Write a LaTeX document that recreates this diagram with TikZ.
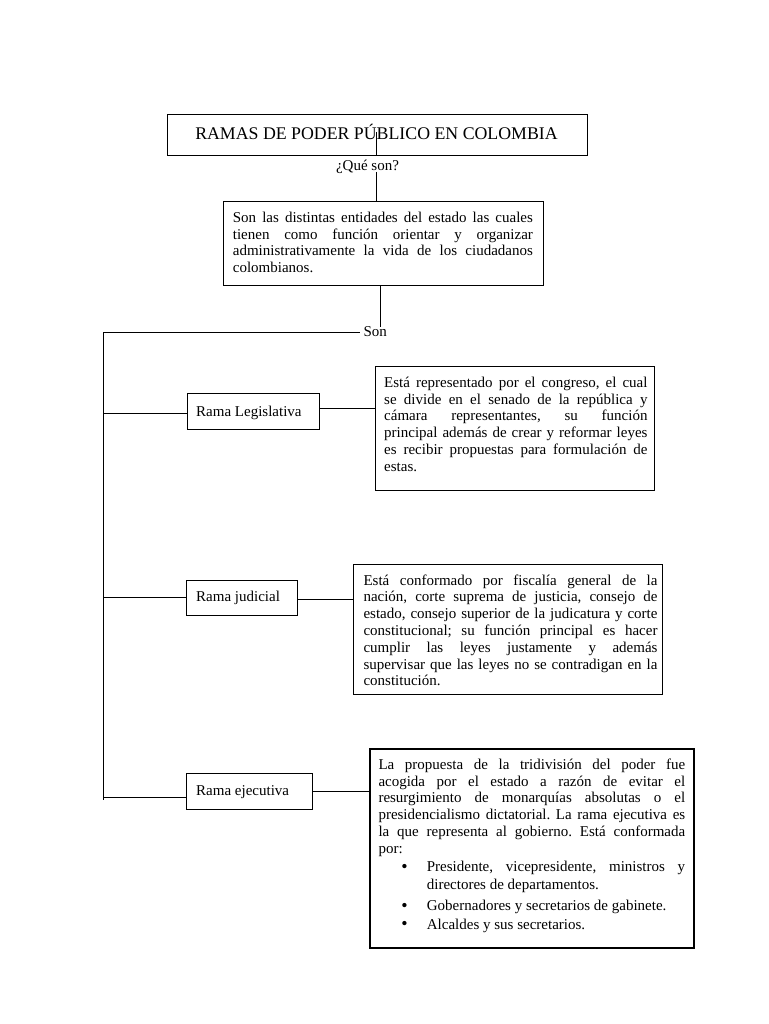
\documentclass[tikz,border=0pt]{standalone}
\usepackage{fontspec}
\setmainfont{Liberation Serif}
\newcommand\bodyfont{\fontsize{15}{16.8}\selectfont\frenchspacing}
\newcommand\titlefont{\fontsize{17.8}{20}\selectfont}
\newcommand\jl[1]{\hbox to\hsize{#1}}
\newcommand\lastline[1]{\hbox to\hsize{#1\hfil}}
\newcommand\bul{\raisebox{-0.5pt}{\fontsize{18}{18}\selectfont\textbullet}}
\newcommand\itemline[1]{\hbox to\hsize{\hbox to 48.4pt{\kern22.8pt\bul\hss}#1}}
\newcommand\itemlast[1]{\hbox to\hsize{\hbox to 48.4pt{\kern22.8pt\bul\hss}#1\hfil}}
\newcommand\contline[1]{\hbox to\hsize{\kern48.4pt #1\hfil}}
\begin{document}
\begin{tikzpicture}[x=1pt,y=-1pt,
  ln/.style={line width=0.9pt,black},
  boxst/.style={draw=black,line width=1pt,inner sep=0pt,anchor=north west},
  txt/.style={inner sep=0pt,font=\bodyfont,text=black}]
\useasboundingbox[fill=white] (0,0) rectangle (768,1024);

% ---- boxes ----
\node[boxst,minimum width=420pt,minimum height=41pt] (title) at (167,114) {};
\node[boxst,minimum width=319.4pt,minimum height=84pt] (def) at (223.3,201) {};
\node[boxst,minimum width=132pt,minimum height=35.7pt] (leg) at (186.7,393.3) {};
\node[boxst,minimum width=110.7pt,minimum height=35pt] (jud) at (186,580) {};
\node[boxst,minimum width=125.7pt,minimum height=36pt] (eje) at (186,773.3) {};
\node[boxst,minimum width=279.6pt,minimum height=124pt] (legbox) at (374.7,366) {};
\node[boxst,minimum width=308.4pt,minimum height=130pt] (judbox) at (353.3,564) {};
\node[boxst,line width=2.2pt,minimum width=324pt,minimum height=199pt] (ejebox) at (369,748) {};

% ---- texts ----
\node[txt,font=\titlefont,anchor=base] (titletext) at (376.5,140) {RAMAS DE PODER PÚBLICO EN COLOMBIA};
\node[txt,anchor=base] (que) at (367.5,170.8) {¿Qué son?};
\node[txt,anchor=base west] (son) at (363.3,336.7) {Son};
\node[txt,anchor=base west] (legt) at (196,416) {Rama Legislativa};
\node[txt,anchor=base west] (judt) at (196,601.7) {Rama judicial};
\node[txt,anchor=base west] (ejet) at (196,795) {Rama ejecutiva};

\node[txt,anchor=base west] (deftext) at (232.7,222.3) {\vtop{\hsize=300pt \bodyfont
\jl{Son las distintas entidades del estado las cuales}
\jl{tienen como función orientar y organizar}
\jl{administrativamente la vida de los ciudadanos}
\lastline{colombianos.}}};

\node[txt,anchor=base west] (legtext) at (384,387.3) {\vtop{\hsize=263.3pt \bodyfont
\jl{Está representado por el congreso, el cual}
\jl{se divide en el senado de la república y}
\jl{cámara representantes, su función}
\jl{principal además de crear y reformar leyes}
\jl{es recibir propuestas para formulación de}
\lastline{estas.}}};

\node[txt,anchor=base west] (judtext) at (363.3,585) {\vtop{\hsize=294pt \bodyfont
\jl{Está conformado por fiscalía general de la}
\jl{nación, corte suprema de justicia, consejo de}
\jl{estado, consejo superior de la judicatura y corte}
\jl{constitucional; su función principal es hacer}
\jl{cumplir las leyes justamente y además}
\jl{supervisar que las leyes no se contradigan en la}
\lastline{constitución.}}};

\node[txt,anchor=base west] (ejetext) at (378.3,769.3) {\vtop{\hsize=306.7pt \bodyfont
\jl{La propuesta de la tridivisión del poder fue}
\jl{acogida por el estado a razón de evitar el}
\jl{resurgimiento de monarquías absolutas o el}
\jl{presidencialismo dictatorial. La rama ejecutiva es}
\jl{la que representa al gobierno. Está conformada}
\lastline{por:}
\vskip1.4pt
\itemline{Presidente, vicepresidente, ministros y}
\vskip1.1pt
\contline{directores de departamentos.}
\vskip4.4pt
\itemlast{Gobernadores y secretarios de gabinete.}
\vskip1.6pt
\itemlast{Alcaldes y sus secretarios.}}};

% ---- connector coordinates ----
\coordinate (qa) at (376,132);
\coordinate (qb) at (376,172);
\coordinate (sa) at (380,327);
\coordinate (trunktop) at (103,332.7);
\coordinate (trunkend) at (360,332.7);
\coordinate (trunkbot) at (103,800);
\coordinate (bl) at (103,413);
\coordinate (bj) at (103,597.3);
\coordinate (be) at (103,797.3);
\coordinate (rl) at (320,408.3);
\coordinate (rj) at (298,599.3);
\coordinate (re) at (313,791);

% ---- connectors ----
\draw[ln] (qa) -- (qa |- title.south);
\draw[ln] (qb) -- (qb |- def.north);
\draw[ln] (sa |- def.south) -- (sa);
\draw[ln] (trunktop) -- (trunkend);
\draw[ln] (trunktop) -- (trunkbot);
\draw[ln] (bl) -- (bl -| leg.west);
\draw[ln] (bj) -- (bj -| jud.west);
\draw[ln] (be) -- (be -| eje.west);
\draw[ln] (rl) -- (rl -| legbox.west);
\draw[ln] (rj) -- (rj -| judbox.west);
\draw[ln] (re) -- (re -| ejebox.west);
\end{tikzpicture}
\end{document}
